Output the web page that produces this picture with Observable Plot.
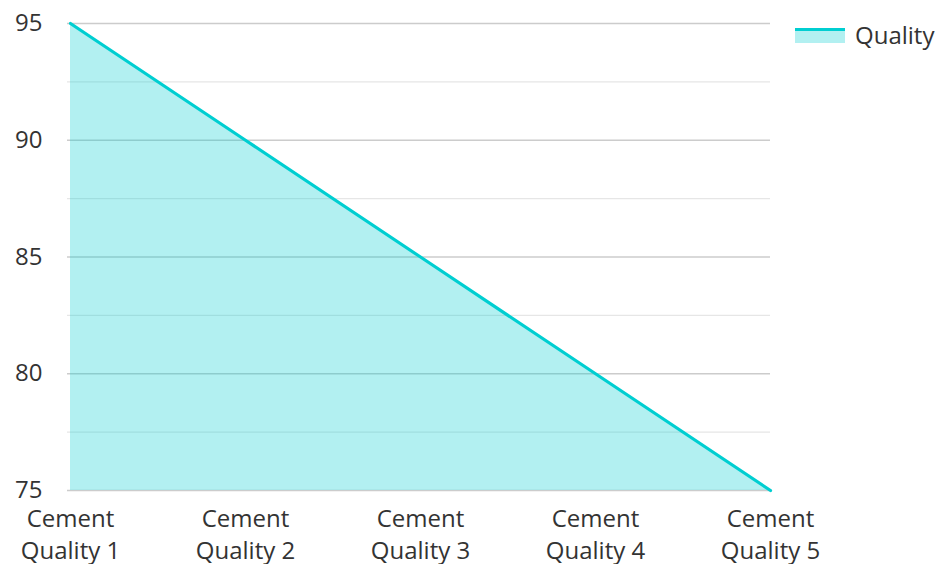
<!DOCTYPE html>
<html>
<head>
<meta charset="utf-8">
<script src="https://cdn.jsdelivr.net/npm/d3@7"></script>
<script src="https://cdn.jsdelivr.net/npm/@observablehq/plot@0.6"></script>
<style>
  html, body { margin: 0; padding: 0; background: #fff; }
  #wrap { position: relative; width: 940px; height: 564px; font-family: "Open Sans", sans-serif; }
  #legend { position: absolute; left: 795px; top: 18px; display: flex; align-items: center; color: #333; font-size: 24px; }
  #legend .sw { width: 50px; height: 15px; background: rgba(0,206,209,0.3); border-top: 3px solid #00ced1; box-sizing: border-box; margin-right: 10px; margin-top: 2px; }
</style>
</head>
<body>
<div id="wrap">
  <div id="chart"></div>
  <div id="legend"><div class="sw"></div><span>Quality</span></div>
</div>
<script>
const categories = ["Cement Quality 1", "Cement Quality 2", "Cement Quality 3", "Cement Quality 4", "Cement Quality 5"];
const quality = [95, 90, 85, 80, 75];
const majorTicks = [75, 80, 85, 90, 95];
const minorTicks = [77.5, 82.5, 87.5, 92.5];
const baseline = 75;

const data = categories.map((c, i) => ({category: c, value: quality[i], base: baseline}));
const color = "#00ced1";

const chart = Plot.plot({
  width: 940,
  height: 564,
  marginLeft: 69,
  marginRight: 170,
  marginTop: 23,
  marginBottom: 74,
  style: { fontFamily: "Open Sans, sans-serif", fontSize: "24px", color: "#333", background: "#fff", overflow: "visible" },
  x: { type: "point", domain: categories, padding: 0 },
  y: { domain: [75, 95] },
  marks: [
    Plot.ruleY(minorTicks, { stroke: "#e6e6e6", strokeWidth: 1.2, insetLeft: -2 }),
    Plot.ruleY(majorTicks, { stroke: "#cccccc", strokeWidth: 1.5, insetLeft: -2 }),
    Plot.areaY(data, { x: "category", y1: "base", y2: "value", fill: color, fillOpacity: 0.3 }),
    Plot.lineY(data, { x: "category", y: "value", stroke: color, strokeWidth: 3.2 }),
    Plot.axisY(majorTicks, { tickSize: 0, tickPadding: 27, label: null, fontSize: 24, fill: "#333" }),
    Plot.axisX(categories, {
      tickSize: 0, tickPadding: 14, label: null, fontSize: 24, fill: "#333", lineHeight: 1.33,
      tickFormat: d => d.replace(" Quality", "\nQuality")
    })
  ]
});
document.getElementById("chart").appendChild(chart);
</script>
</body>
</html>
